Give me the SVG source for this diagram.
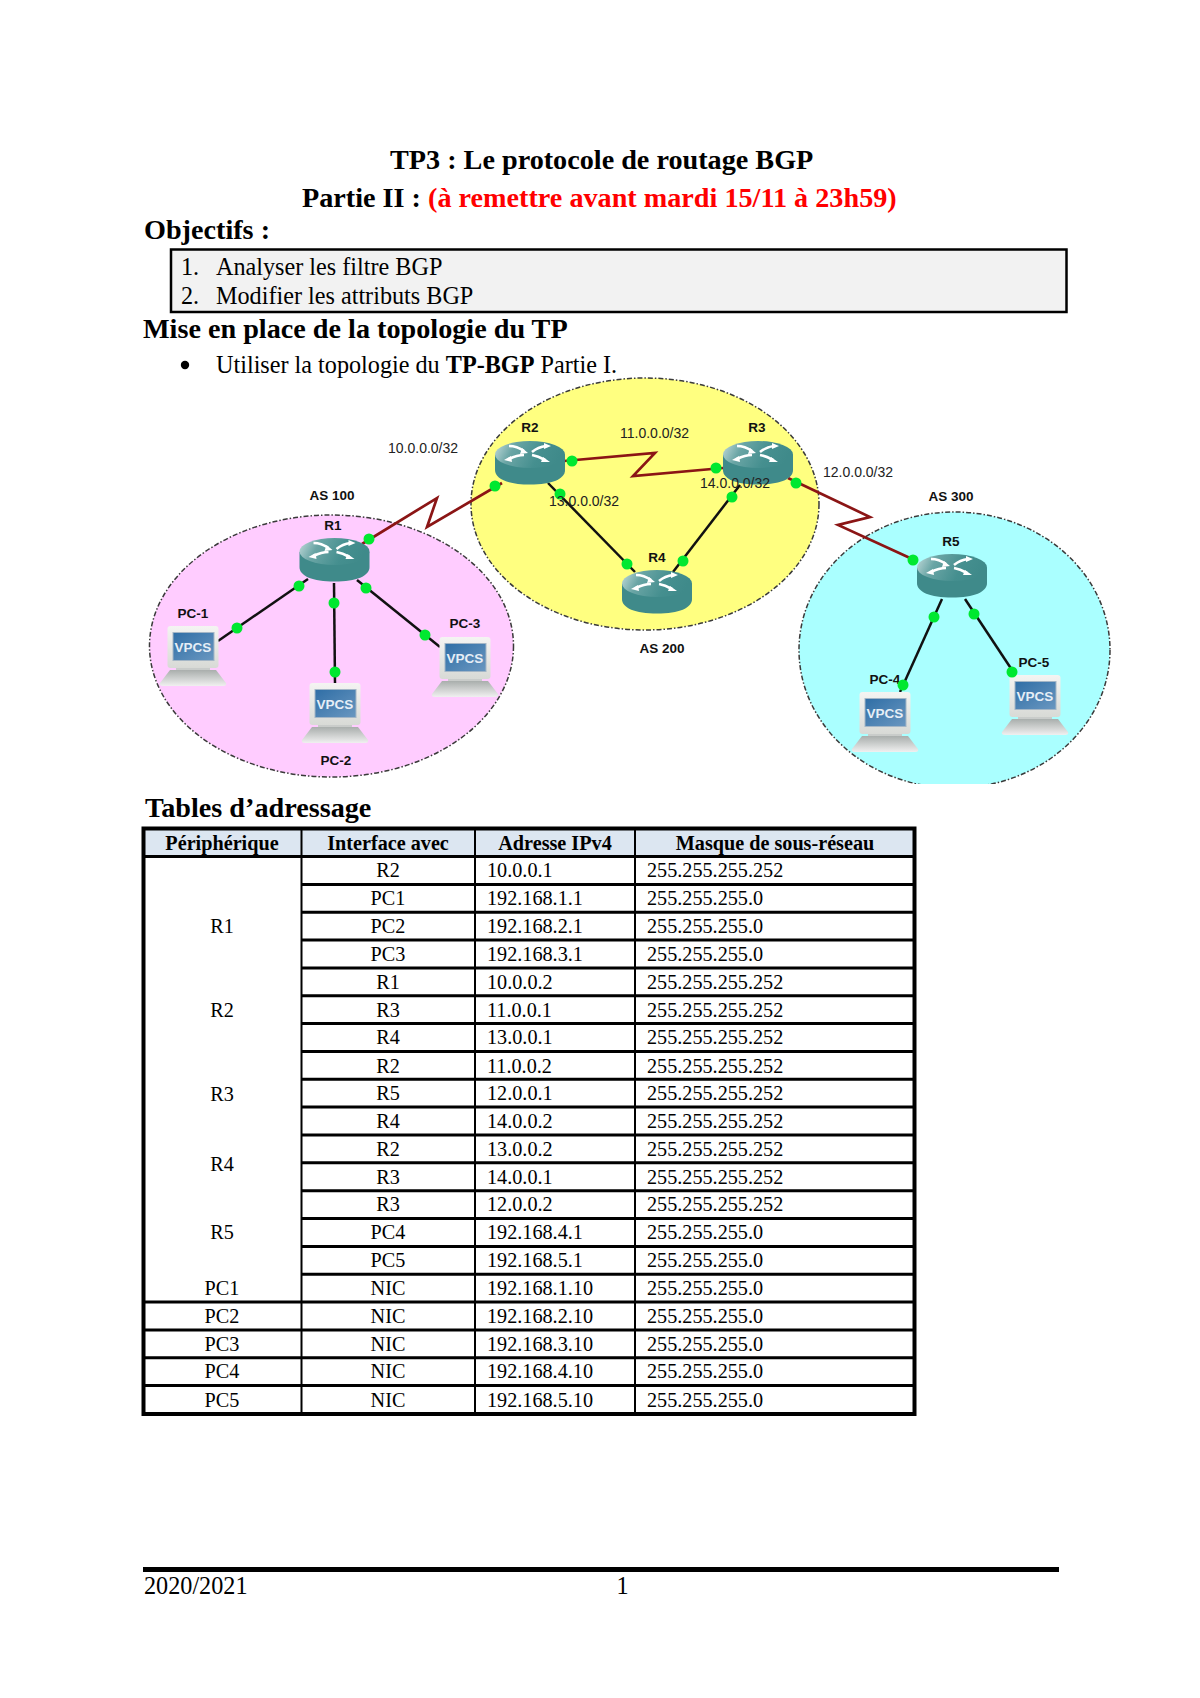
<svg xmlns="http://www.w3.org/2000/svg" xmlns:xlink="http://www.w3.org/1999/xlink" width="1200" height="1698" viewBox="0 0 1200 1698">
<style>
text{font-family:"Liberation Serif","Times New Roman",serif;fill:#000}
.b{font-weight:bold}
.h1{font-size:28.2px;font-weight:bold}
.t{font-size:24.2px}
.c{font-size:20.2px}
.m{text-anchor:middle}
.hd{font-size:20.2px;font-weight:bold;text-anchor:middle}
.net{font-family:"Liberation Sans",Arial,sans-serif;font-size:14px;fill:#222}
.lab{font-family:"Liberation Sans",Arial,sans-serif;font-size:13.5px;font-weight:bold;text-anchor:middle;fill:#111}
.vp{font-family:"Liberation Sans",Arial,sans-serif;font-size:13.5px;font-weight:bold;text-anchor:middle;fill:#e6eef6}
.as{stroke:#3a3a3a;stroke-width:1.5;stroke-dasharray:5 2 1.5 2}
.ser{fill:none;stroke:#8b1515;stroke-width:2.7;stroke-linejoin:miter}
.eth{fill:none;stroke:#111;stroke-width:2.5}
.dot{fill:#00e830}
.rule{fill:none;stroke:#000;stroke-width:3}
.rule2{fill:none;stroke:#000;stroke-width:2}
</style>
<defs>
<linearGradient id="rt" x1="0" x2="1" y1="0" y2="0.2"><stop offset="0" stop-color="#c5dcdc"/><stop offset="0.3" stop-color="#6aa5a5"/><stop offset="0.7" stop-color="#458f8f"/><stop offset="1" stop-color="#3f8a8a"/></linearGradient>
<linearGradient id="kb" x1="0" x2="0" y1="0" y2="1"><stop offset="0" stop-color="#a9aeac"/><stop offset="1" stop-color="#f0f0f0"/></linearGradient>
<linearGradient id="mn" x1="0" x2="0" y1="0" y2="1"><stop offset="0" stop-color="#f4f4f2"/><stop offset="1" stop-color="#d8dad6"/></linearGradient>
<linearGradient id="sc" x1="0" x2="1" y1="0" y2="1"><stop offset="0" stop-color="#2f6ea6"/><stop offset="1" stop-color="#6a97c0"/></linearGradient>
<clipPath id="cut"><rect x="780" y="500" width="340" height="284"/></clipPath>
<g id="router">
<path d="M-35,-8V7C-35,16 -22,21.5 0,21.5S35,16 35,7V-8Z" fill="#3f8a8a"/>
<ellipse cx="0" cy="-8.5" rx="35" ry="13.5" fill="url(#rt)"/>
<path d="M-21,-17Q-13,-17 -6,-12M-6,-8Q-13,-8 -21,-4M16,-17Q8,-16 2,-11M2,-8Q8,-7 15,-3" fill="none" stroke="#fff" stroke-width="2.6"/>
<path d="M-8,-15L-2,-10L-10,-9ZM-19,-7L-26,-3L-18,-1ZM14,-20L21,-17L14,-14ZM13,-6L20,-1L11,-1Z" fill="#fff"/>
</g>
<g id="pc">
<path d="M-17,41H17V46H-17Z" fill="#c9ccca"/>
<path d="M-23,44H23L33,57Q34,60 30,60H-30Q-34,60 -33,57Z" fill="url(#kb)"/>
<rect x="-25.5" y="0" width="51" height="42" rx="3" fill="url(#mn)"/>
<rect x="-20" y="6.5" width="41" height="28" fill="url(#sc)" stroke="#a4b6c6" stroke-width="1"/>
</g>
</defs>
<rect width="1200" height="1698" fill="#fff"/>

<g id="header">
<text class="h1" x="390" y="168.5">TP3 : Le protocole de routage BGP</text>
<text class="h1" x="302" y="206.5">Partie II : <tspan fill="#f00">(à remettre avant mardi 15/11 à 23h59)</tspan></text>
<text class="h1" x="144" y="239">Objectifs :</text>
<rect x="171" y="249.5" width="895.5" height="62.5" fill="#f2f2f2" stroke="#000" stroke-width="2.5"/>
<text class="t" x="181" y="275">1.</text>
<text class="t" x="216" y="275">Analyser les filtre BGP</text>
<text class="t" x="181" y="304">2.</text>
<text class="t" x="216" y="304">Modifier les attributs BGP</text>
<text class="h1" x="143" y="338">Mise en place de la topologie du TP</text>
<circle cx="185" cy="365" r="4.2" fill="#000"/>
<text class="t" x="216" y="373">Utiliser la topologie du <tspan class="b">TP-BGP</tspan> Partie I.</text>
</g>

<g id="areas">
<ellipse class="as" cx="331.5" cy="646" rx="182" ry="131" fill="#ffccff"/>
<ellipse class="as" cx="645" cy="504" rx="174" ry="126" fill="#ffff80"/>
<ellipse class="as" cx="954.5" cy="650" rx="155.5" ry="138" fill="#aaffff" clip-path="url(#cut)"/>
</g>

<g id="connectors">
<path class="ser" d="M362,544L437,498L427,527L502,483"/>
<path class="ser" d="M564,461L655,453L633,476L723,468"/>
<path class="ser" d="M788,478L870,517L838,525L910,558"/>
<path class="eth" d="M548,483L635,572"/>
<path class="eth" d="M740,485L673,572"/>
<path class="eth" d="M308,579L218,641"/>
<path class="eth" d="M334,583L335,684"/>
<path class="eth" d="M357,580L440,647"/>
<path class="eth" d="M942,599L900,692"/>
<path class="eth" d="M965,599L1012,670"/>
</g>

<g id="R1"><use xlink:href="#router" href="#router" x="334.5" y="560"/><text class="lab" x="333" y="530">R1</text></g>
<g id="R2"><use xlink:href="#router" href="#router" x="530" y="463"/><text class="lab" x="530" y="432">R2</text></g>
<g id="R3"><use xlink:href="#router" href="#router" x="758" y="463"/><text class="lab" x="757" y="432">R3</text></g>
<g id="R4"><use xlink:href="#router" href="#router" x="657" y="592"/><text class="lab" x="657" y="562">R4</text></g>
<g id="R5"><use xlink:href="#router" href="#router" x="952" y="576"/><text class="lab" x="951" y="546">R5</text></g>

<g id="PC-1"><use xlink:href="#pc" href="#pc" x="193" y="626"/><text class="vp" x="193" y="652">VPCS</text><text class="lab" x="193" y="618">PC-1</text></g>
<g id="PC-2"><use xlink:href="#pc" href="#pc" x="335" y="683"/><text class="vp" x="335" y="709">VPCS</text><text class="lab" x="336" y="765">PC-2</text></g>
<g id="PC-3"><use xlink:href="#pc" href="#pc" x="465" y="637"/><text class="vp" x="465" y="663">VPCS</text><text class="lab" x="465" y="628">PC-3</text></g>
<g id="PC-4"><use xlink:href="#pc" href="#pc" x="885" y="692"/><text class="vp" x="885" y="718">VPCS</text><text class="lab" x="885" y="684">PC-4</text></g>
<g id="PC-5"><use xlink:href="#pc" href="#pc" x="1035" y="675"/><text class="vp" x="1035" y="701">VPCS</text><text class="lab" x="1034" y="667">PC-5</text></g>

<g id="ports">
<circle class="dot" cx="369" cy="539" r="5.5"/><circle class="dot" cx="495" cy="486" r="5.5"/>
<circle class="dot" cx="572" cy="461" r="5.5"/><circle class="dot" cx="716" cy="468" r="5.5"/>
<circle class="dot" cx="796" cy="483" r="5.5"/><circle class="dot" cx="913" cy="560" r="5.5"/>
<circle class="dot" cx="560" cy="494" r="5.5"/><circle class="dot" cx="627" cy="564" r="5.5"/>
<circle class="dot" cx="732" cy="497" r="5.5"/><circle class="dot" cx="683" cy="561" r="5.5"/>
<circle class="dot" cx="299" cy="586" r="5.5"/><circle class="dot" cx="237" cy="628" r="5.5"/>
<circle class="dot" cx="334" cy="603" r="5.5"/><circle class="dot" cx="335" cy="672" r="5.5"/>
<circle class="dot" cx="366" cy="588" r="5.5"/><circle class="dot" cx="425" cy="635" r="5.5"/>
<circle class="dot" cx="934" cy="617" r="5.5"/><circle class="dot" cx="903" cy="685" r="5.5"/>
<circle class="dot" cx="974" cy="614" r="5.5"/><circle class="dot" cx="1012" cy="672" r="5.5"/>
</g>

<g id="labels">
<text class="net" x="388" y="453">10.0.0.0/32</text>
<text class="net" x="549" y="506">13.0.0.0/32</text>
<text class="net" x="620" y="438">11.0.0.0/32</text>
<text class="net" x="700" y="488">14.0.0.0/32</text>
<text class="net" x="823" y="477">12.0.0.0/32</text>
<text class="lab" x="332" y="500">AS 100</text>
<text class="lab" x="662" y="653">AS 200</text>
<text class="lab" x="951" y="501">AS 300</text>
</g>

<g id="table">
<text class="h1" x="145" y="817">Tables d’adressage</text>
<rect x="145" y="830" width="768" height="26" fill="#dce6f1"/>
<path class="rule" d="M143,828.5H915M145,856.5H913M302,884.4H913M302,912.2H913M302,940H913M302,967.9H913M302,995.7H913M302,1023.6H913M302,1051.4H913M302,1079.3H913M302,1107.1H913M302,1135H913M302,1162.8H913M302,1190.7H913M302,1218.5H913M302,1246.4H913M302,1274.2H913M145,1302.1H913M145,1330H913M145,1357.8H913M145,1385.6H913"/>
<path class="rule2" d="M301.5,829V1414M475,829V1414M635,829V1414"/>
<rect x="143.5" y="828.5" width="771" height="585.5" fill="none" stroke="#000" stroke-width="4"/>
<text class="hd" x="222" y="850">Périphérique</text>
<text class="hd" x="388" y="850">Interface avec</text>
<text class="hd" x="555" y="850">Adresse IPv4</text>
<text class="hd" x="775" y="850">Masque de sous-réseau</text>
<g>
<text class="c m" x="222" y="933">R1</text>
<text class="c m" x="222" y="1016.5">R2</text>
<text class="c m" x="222" y="1101">R3</text>
<text class="c m" x="222" y="1170.5">R4</text>
<text class="c m" x="222" y="1238.5">R5</text>
<text class="c m" x="222" y="1295">PC1</text>
<text class="c m" x="222" y="1323">PC2</text>
<text class="c m" x="222" y="1350.5">PC3</text>
<text class="c m" x="222" y="1378">PC4</text>
<text class="c m" x="222" y="1406.5">PC5</text>

<text class="c m" x="388" y="877">R2</text><text class="c" x="487" y="877">10.0.0.1</text><text class="c" x="647" y="877">255.255.255.252</text>
<text class="c m" x="388" y="905">PC1</text><text class="c" x="487" y="905">192.168.1.1</text><text class="c" x="647" y="905">255.255.255.0</text>
<text class="c m" x="388" y="933">PC2</text><text class="c" x="487" y="933">192.168.2.1</text><text class="c" x="647" y="933">255.255.255.0</text>
<text class="c m" x="388" y="961">PC3</text><text class="c" x="487" y="961">192.168.3.1</text><text class="c" x="647" y="961">255.255.255.0</text>
<text class="c m" x="388" y="989">R1</text><text class="c" x="487" y="989">10.0.0.2</text><text class="c" x="647" y="989">255.255.255.252</text>
<text class="c m" x="388" y="1016.5">R3</text><text class="c" x="487" y="1016.5">11.0.0.1</text><text class="c" x="647" y="1016.5">255.255.255.252</text>
<text class="c m" x="388" y="1044">R4</text><text class="c" x="487" y="1044">13.0.0.1</text><text class="c" x="647" y="1044">255.255.255.252</text>
<text class="c m" x="388" y="1072.5">R2</text><text class="c" x="487" y="1072.5">11.0.0.2</text><text class="c" x="647" y="1072.5">255.255.255.252</text>
<text class="c m" x="388" y="1100">R5</text><text class="c" x="487" y="1100">12.0.0.1</text><text class="c" x="647" y="1100">255.255.255.252</text>
<text class="c m" x="388" y="1128">R4</text><text class="c" x="487" y="1128">14.0.0.2</text><text class="c" x="647" y="1128">255.255.255.252</text>
<text class="c m" x="388" y="1155.5">R2</text><text class="c" x="487" y="1155.5">13.0.0.2</text><text class="c" x="647" y="1155.5">255.255.255.252</text>
<text class="c m" x="388" y="1183.5">R3</text><text class="c" x="487" y="1183.5">14.0.0.1</text><text class="c" x="647" y="1183.5">255.255.255.252</text>
<text class="c m" x="388" y="1211">R3</text><text class="c" x="487" y="1211">12.0.0.2</text><text class="c" x="647" y="1211">255.255.255.252</text>
<text class="c m" x="388" y="1239">PC4</text><text class="c" x="487" y="1239">192.168.4.1</text><text class="c" x="647" y="1239">255.255.255.0</text>
<text class="c m" x="388" y="1267">PC5</text><text class="c" x="487" y="1267">192.168.5.1</text><text class="c" x="647" y="1267">255.255.255.0</text>
<text class="c m" x="388" y="1295">NIC</text><text class="c" x="487" y="1295">192.168.1.10</text><text class="c" x="647" y="1295">255.255.255.0</text>
<text class="c m" x="388" y="1323">NIC</text><text class="c" x="487" y="1323">192.168.2.10</text><text class="c" x="647" y="1323">255.255.255.0</text>
<text class="c m" x="388" y="1350.5">NIC</text><text class="c" x="487" y="1350.5">192.168.3.10</text><text class="c" x="647" y="1350.5">255.255.255.0</text>
<text class="c m" x="388" y="1378">NIC</text><text class="c" x="487" y="1378">192.168.4.10</text><text class="c" x="647" y="1378">255.255.255.0</text>
<text class="c m" x="388" y="1406.5">NIC</text><text class="c" x="487" y="1406.5">192.168.5.10</text><text class="c" x="647" y="1406.5">255.255.255.0</text>
</g>
</g>

<g id="footer">
<rect x="143" y="1567" width="916" height="5" fill="#000"/>
<text class="t" x="144" y="1594">2020/2021</text>
<text class="t" x="616.5" y="1594">1</text>
</g>
</svg>
